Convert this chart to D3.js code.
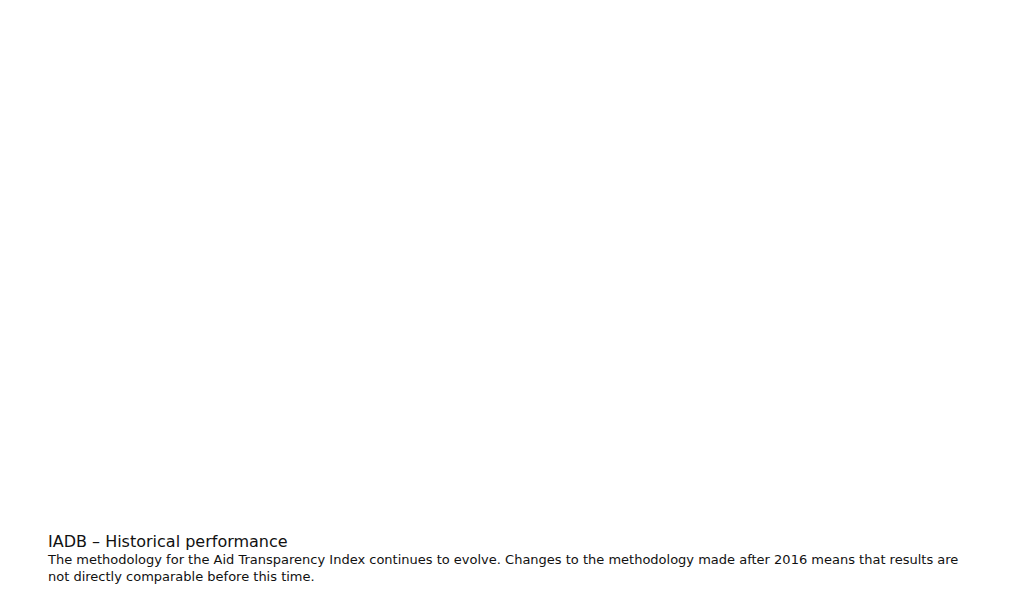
<!DOCTYPE html>
<html>
<head>
<meta charset="utf-8">
<script src="https://cdn.jsdelivr.net/npm/d3@7"></script>
<style>
  html, body { margin: 0; padding: 0; background: #fff; }
  svg { display: block; font-family: "DejaVu Sans", sans-serif; }
</style>
</head>
<body>
<script>
// The reference chart area is empty: no series were drawn.
const years = [];
const scores = [];
const titleText = "IADB \u2013 Historical performance";
const captionLines = [
  "The methodology for the Aid Transparency Index continues to evolve. Changes to the methodology made after 2016 means that results are",
  "not directly comparable before this time."
];

const W = 1024, H = 601;
const svg = d3.select("body").append("svg").attr("width", W).attr("height", H);

// empty plot region (no data)
const x = d3.scaleBand().domain(years).range([48, 976]);
const y = d3.scaleLinear().domain([0, 100]).range([510, 20]);
svg.append("g").selectAll("rect").data(scores).join("rect")
  .attr("x", (d, i) => x(years[i])).attr("y", d => y(d))
  .attr("width", x.bandwidth()).attr("height", d => y(0) - y(d));

svg.append("text")
  .attr("x", 48).attr("y", 547)
  .attr("font-size", 16).attr("fill", "#111")
  .text(titleText);

svg.append("g").selectAll("text").data(captionLines).join("text")
  .attr("x", 48).attr("y", (d, i) => 564 + i * 17)
  .attr("font-size", 13).attr("fill", "#111")
  .text(d => d);
</script>
</body>
</html>
